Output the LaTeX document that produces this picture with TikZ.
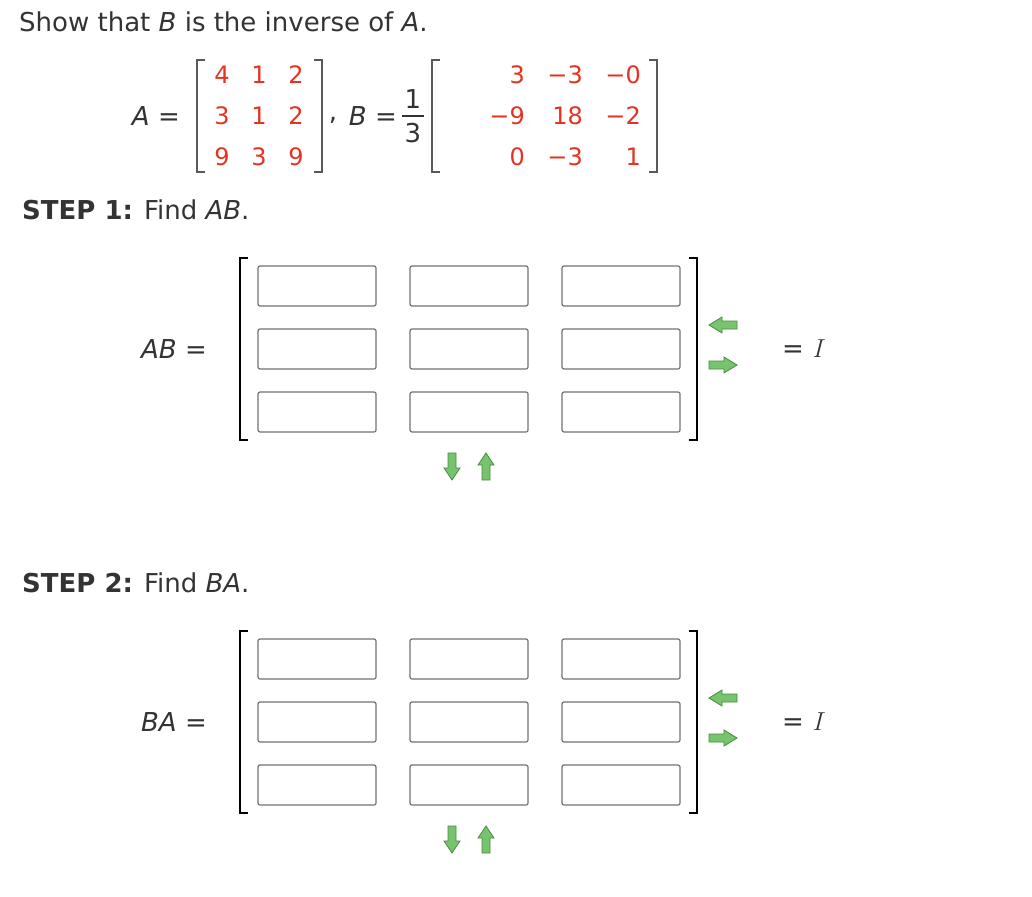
\documentclass[tikz,border=0pt]{standalone}
\usepackage{fontspec}
\setmainfont{DejaVu Sans}
\newfontfamily\serif{Latin Modern Roman}
\begin{document}
\begin{tikzpicture}[x=1pt,y=-1pt,
  txt/.style={inner sep=0pt,text=black!80,font=\fontsize{26}{30}\selectfont},
  ent/.style={inner sep=0pt,text={rgb,255:red,230;green,50;blue,35},font=\fontsize{24}{28}\selectfont},
  cell/.style={draw=black!55,line width=1.2pt,rounded corners=2pt,minimum width=118pt,minimum height=40pt,inner sep=0pt},
  grn/.style={draw={rgb,255:red,70;green,140;blue,60},line width=0.8pt,fill={rgb,255:red,120;green,195;blue,110}},
  sbr/.style={draw=black!65,line width=2.5pt},
  bbr/.style={draw=black,line width=1.8pt}]
\useasboundingbox (0,0) rectangle (1032,896);
\fill[white] (0,0) rectangle (1032,896);
\node[txt,anchor=west] (title) at (19,22) {Show that \textit{B} is the inverse of \textit{A}.};
% A
\node[txt,anchor=east] (Aeq) at (180,116) {\textit{A} =};
\node[ent] (a11) at (222,75) {4}; \node[ent] (a12) at (259,75) {1}; \node[ent] (a13) at (296,75) {2};
\node[ent] (a21) at (222,116) {3}; \node[ent] (a22) at (259,116) {1}; \node[ent] (a23) at (296,116) {2};
\node[ent] (a31) at (222,157) {9}; \node[ent] (a32) at (259,157) {3}; \node[ent] (a33) at (296,157) {9};
\draw[sbr] (205,60) -- (197,60) -- (197,172) -- (205,172);
\draw[sbr] (314,60) -- (322,60) -- (322,172) -- (314,172);
\node[txt] (comma) at (333,120) {,};
% B
\node[txt,anchor=east] (Beq) at (397,116) {\textit{B} =};
\node[txt] (one) at (413,99) {1};
\node[txt] (three) at (413,133) {3};
\draw[black!80,line width=1.5pt] (402,116) -- (424,116);
\draw[sbr] (440,60) -- (432,60) -- (432,172) -- (440,172);
\draw[sbr] (649,60) -- (657,60) -- (657,172) -- (649,172);
\node[ent,anchor=east] (b11) at (525,75) {3}; \node[ent,anchor=east] (b12) at (583,75) {−3}; \node[ent,anchor=east] (b13) at (641,75) {−0};
\node[ent,anchor=east] (b21) at (525,116) {−9}; \node[ent,anchor=east] (b22) at (583,116) {18}; \node[ent,anchor=east] (b23) at (641,116) {−2};
\node[ent,anchor=east] (b31) at (525,157) {0}; \node[ent,anchor=east] (b32) at (583,157) {−3}; \node[ent,anchor=east] (b33) at (641,157) {1};
% steps
\foreach \s/\lab/\ty/\my in {1/AB/210/349, 2/BA/583/722}{
  \node[txt,anchor=west] (step\s) at (22,\ty) {\textbf{STEP \s:} Find \textit{\lab}.};
  \node[txt,anchor=east] (lhs\s) at (207,\my) {\textit{\lab} =};
  \node[txt,anchor=west] (rhs\s) at (782,\my) {= {\serif\itshape\fontsize{26}{30}\selectfont I}};
  \foreach \c/\x in {1/317,2/469,3/621}{
    \foreach \r/\dy in {1/-63,2/0,3/63}{
      \node[cell] (c\s\r\c) at (\x,\my+\dy) {};
    }
  }
  \draw[bbr] (248,\my-91) -- (240,\my-91) -- (240,\my+91) -- (248,\my+91);
  \draw[bbr] (689,\my-91) -- (697,\my-91) -- (697,\my+91) -- (689,\my+91);
  \draw[grn] (737,\my-28) -- (722,\my-28) -- (722,\my-32) -- (709,\my-24) -- (722,\my-16) -- (722,\my-20) -- (737,\my-20) -- cycle;
  \draw[grn] (709,\my+12) -- (724,\my+12) -- (724,\my+8) -- (737,\my+16) -- (724,\my+24) -- (724,\my+20) -- (709,\my+20) -- cycle;
  \draw[grn] (448,\my+104) -- (456,\my+104) -- (456,\my+119) -- (460,\my+119) -- (452,\my+131) -- (444,\my+119) -- (448,\my+119) -- cycle;
  \draw[grn] (482,\my+131) -- (490,\my+131) -- (490,\my+116) -- (494,\my+116) -- (486,\my+104) -- (478,\my+116) -- (482,\my+116) -- cycle;
}
\end{tikzpicture}
\end{document}
